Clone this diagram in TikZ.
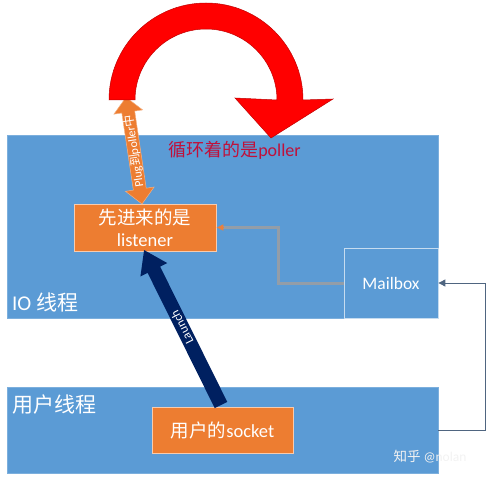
\documentclass[tikz,border=0pt]{standalone}
\usepackage{fontspec}
\setmainfont{Carlito}
\newfontfamily\cjk{Noto Sans CJK SC}
\usetikzlibrary{arrows.meta}
\definecolor{boxblue}{HTML}{5B9BD5}
\definecolor{boxorange}{HTML}{ED7D31}
\definecolor{navyarrow}{HTML}{002060}
\definecolor{ringred}{HTML}{FF0000}
\definecolor{ringedge}{HTML}{C00000}
\definecolor{polltext}{HTML}{C0103A}
\definecolor{linkgray}{HTML}{939DA8}
\definecolor{linkslate}{HTML}{4F6580}
\definecolor{tiporange}{HTML}{E8803F}
\begin{document}
\begin{tikzpicture}[x=1pt,y=-1pt,
  threadbox/.style={fill=boxblue,draw=boxblue!80!white,line width=0.6pt,inner sep=0pt},
  mailboxnode/.style={fill=boxblue,draw=boxblue!35!white,line width=0.8pt,inner sep=0pt,text=white,font=\fontsize{17.5}{20}\selectfont},
  orangebox/.style={fill=boxorange,draw=boxorange!40!white,line width=0.8pt,inner sep=0pt,text=white,align=center,font=\fontsize{18.5}{22}\selectfont},
  threadlabel/.style={text=white,anchor=west,inner sep=0pt,font=\fontsize{21}{23}\selectfont},
  arrowtext/.style={text=white,inner sep=0pt}
]
\useasboundingbox (0,0) rectangle (487,481);
% thread boxes
\node[threadbox,minimum width=431pt,minimum height=183pt] (io) at (222.5,226.5) {};
\node[threadbox,minimum width=431pt,minimum height=86pt] (usr) at (222.5,430) {};
\node[mailboxnode,minimum width=94pt,minimum height=70pt] (mb) at (391,283) {Mailbox};
% listener and socket
\node[orangebox,minimum width=142pt,minimum height=47pt] (lis) at (145,227.5) {{\cjk 先进来的是}\\listener};
\node[orangebox,minimum width=141pt,minimum height=46pt] (sock) at (222.5,430) {{\cjk 用户的}socket};
% thread labels
\node[threadlabel] (iolab) at (12,302) {IO {\cjk 线程}};
\node[threadlabel] (usrlab) at (12,405) {{\cjk 用户线程}};
% gray connector mailbox -> listener
\coordinate (bend) at (278,0);
\draw[linkgray,line width=3pt]
  (mb.west) -- (bend |- mb.west) |- ([xshift=6pt]lis.east);
\draw[-{Latex[length=7pt,width=7pt]},tiporange,line width=1pt] ([xshift=7pt]lis.east) -- (lis.east);
% thin connector user thread -> mailbox
\coordinate (rail) at (485,0);
\draw[linkslate,line width=0.9pt,-{Triangle[length=7pt,width=7pt]}]
  (usr.east) -- (rail |- usr.east) |- (mb.east);
% Launch arrow
\begin{scope}[shift={(221,405)},rotate=116.4]
  \fill[navyarrow] (0,-7) -- (151,-7) -- (151,-15) -- (173,0) -- (151,15) -- (151,7) -- (0,7) -- cycle;
\end{scope}
\node[arrowtext,rotate=116.4,font=\fontsize{12.5}{14}\selectfont] (launch) at (182,327.5) {Launch};
% Plug double arrow
\begin{scope}[shift={(142,204)},rotate=98.5]
  \filldraw[fill=boxorange,draw=boxorange!60!white,line width=0.5pt]
    (0,0) -- (15,-14.5) -- (15,-6.5) -- (93,-6.5) -- (93,-14.5) -- (108,0) -- (93,14.5) -- (93,6.5) -- (15,6.5) -- (15,14.5) -- cycle;
\end{scope}
\node[arrowtext,rotate=98.5,font=\fontsize{12}{13}\selectfont] (plug) at (134,151) {Plug{\cjk 到}poller{\cjk 中}};
% red loop arrow
\filldraw[fill=ringred,draw=ringedge,line width=0.5pt]
  (109,100) arc[start angle=180,end angle=0,radius=97pt]
  -- (333,99) -- (271,138) -- (235,98) -- (277,100)
  arc[start angle=0,end angle=180,radius=71pt] -- cycle;
\node[text=polltext,inner sep=0pt,font=\fontsize{18}{20}\selectfont] (poll) at (234.5,150) {{\cjk 循环着的是}poller};
% watermark
\node[text=white!90!gray,inner sep=0pt,font=\fontsize{13.5}{15}\selectfont] (wm) at (430,457) {{\cjk 知乎} @nolan};
\end{tikzpicture}
\end{document}
